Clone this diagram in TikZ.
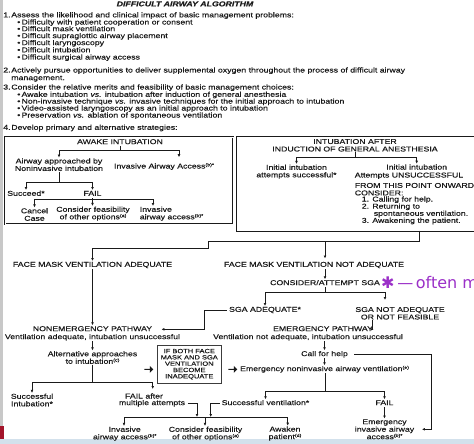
\documentclass[tikz,border=0pt]{standalone}
\usepackage{fontspec}
\setmainfont{Liberation Sans}[FakeStretch=1.25,FakeBold=0.35]
\newfontfamily\handfont{DejaVu Sans}
\usetikzlibrary{arrows.meta,shapes.arrows,calc}
\definecolor{ink}{HTML}{1A1A1A}
\definecolor{pen}{HTML}{9B30C8}
\definecolor{band}{HTML}{D3E1EC}
\definecolor{strip}{HTML}{C8C8C8}
\definecolor{redbit}{HTML}{A3142A}
\newcommand\fsz[2]{\fontsize{#1}{#2}\selectfont}
\newcommand\sups[1]{\raisebox{2.2pt}{\fsz{4.2}{4.2}#1}}
\tikzset{
 lbl/.style={inner sep=0pt, outer sep=0.8pt, text=ink, font=\fsz{7}{7.5}, align=center},
 one/.style={lbl, text height=5pt, text depth=1.4pt},
 lw/.style={one, anchor=west},
 ln/.style={draw=ink, line width=0.6pt},
 arr/.style={ln, -{Latex[length=3pt,width=2.8pt]}},
 frame/.style={draw=ink, double=white, double distance=0.9pt, line width=0.55pt, inner sep=0pt, outer sep=0pt, anchor=north west},
 blk/.style={single arrow, fill=ink, draw=none, minimum height=9pt, minimum width=7pt, single arrow head extend=1.2pt, inner sep=0pt},
}
\begin{document}
\begin{tikzpicture}[x=1pt,y=-1pt]
\useasboundingbox (0,0) rectangle (474,444);
\fill[white] (0,0) rectangle (474,444);
\fill[strip] (0,0) rectangle (3,439);
\fill[redbit] (0,426) rectangle (4,439);
\fill[band] (0,439) rectangle (474,444);

% ---------- header list ----------
\node[one, font=\fsz{7}{7.5}\bfseries\itshape] (title) at (185,4.5) {DIFFICULT AIRWAY ALGORITHM};
\node[lw] (n1) at (2.5,15.5) {1.};
\node[lw] (t1) at (10.5,15.5) {Assess the likelihood and clinical impact of basic management problems:};
\node[lw] (b11) at (16.5,22.7) {•\hspace{1.2pt}Difficulty with patient cooperation or consent};
\node[lw] (b12) at (16.5,29.4) {•\hspace{1.2pt}Difficult mask ventilation};
\node[lw] (b13) at (16.5,36.3) {•\hspace{1.2pt}Difficult supraglottic airway placement};
\node[lw] (b14) at (16.5,43.3) {•\hspace{1.2pt}Difficult laryngoscopy};
\node[lw] (b15) at (16.5,50.5) {•\hspace{1.2pt}Difficult intubation};
\node[lw] (b16) at (16.5,57.7) {•\hspace{1.2pt}Difficult surgical airway access};
\node[lw] (n2) at (2.5,70.7) {2.};
\node[lw] (t2) at (10.5,70.7) {Actively pursue opportunities to deliver supplemental oxygen throughout the process of difficult airway};
\node[lw] (t2b) at (10.5,78.3) {management.};
\node[lw] (n3) at (2.5,87.7) {3.};
\node[lw] (t3) at (10.5,87.7) {Consider the relative merits and feasibility of basic management choices:};
\node[lw] (b31) at (16.5,95) {•\hspace{1.2pt}Awake intubation \textit{vs.} intubation after induction of general anesthesia};
\node[lw] (b32) at (16.5,101.8) {•\hspace{1.2pt}Non-invasive technique \textit{vs.} invasive techniques for the initial approach to intubation};
\node[lw] (b33) at (16.5,108.7) {•\hspace{1.2pt}Video-assisted laryngoscopy as an initial approach to intubation};
\node[lw] (b34) at (16.5,115.7) {•\hspace{1.2pt}Preservation \textit{vs.} ablation of spontaneous ventilation};
\node[lw] (n4) at (2.5,128) {4.};
\node[lw] (t4) at (10.5,128) {Develop primary and alternative strategies:};

% ---------- boxes ----------
\node[frame, minimum width=228pt, minimum height=87pt] (boxL) at (5,137) {};
\node[frame, minimum width=250pt, minimum height=93.5pt] (boxR) at (237,137) {};

% ---------- awake intubation ----------
\node[one] (awake) at (120,142.3) {AWAKE INTUBATION};
\coordinate (jA) at (120,150);
\node[lbl] (aw1) at (59,164.7) {Airway approached by\\Noninvasive intubation};
\node[one] (iaa) at (164,166.7) {Invasive Airway Access\sups{(b)*}};
\coordinate (iaaT) at (179,157.2);
\draw[ln] (awake.south) -- (jA);
\draw[arr] (jA) -| (aw1.north);
\draw[arr] (jA) -| (iaaT);

\coordinate (jB) at (59,182.3);
\node[one] (succ) at (26,194) {Succeed*};
\node[one] (fail1) at (92.5,194) {FAIL};
\draw[ln] (aw1.south) -- (jB);
\draw[arr] (jB) -| (succ.north);
\draw[arr] (jB) -| (fail1.north);

\coordinate (jC) at (92.5,199);
\node[lbl] (cancel) at (34.5,214.5) {Cancel\\Case};
\node[lbl] (consid) at (93,213.7) {Consider feasibility\\of other options\sups{(a)}};
\node[lbl, align=left, anchor=west] (inv1) at (139,213.7) {Invasive\\airway access\sups{(b)*}};
\coordinate (a153) at (153,206);
\draw[ln] (fail1.south) -- (jC);
\draw[arr] (jC) -| (cancel.north);
\draw[arr] (jC) -- (jC |- consid.north);
\draw[arr] (jC) -| (a153);

% ---------- intubation after induction ----------
\node[lbl] (iag) at (355,145.3) {INTUBATION AFTER\\INDUCTION OF GENERAL ANESTHESIA};
\coordinate (jD) at (355,157.7);
\node[lbl] (iis) at (296.5,171.7) {Initial intubation\\attempts successful*};
\node[one] (iiu1) at (416.7,167.7) {Initial intubation};
\node[lw] (iiu2) at (354,175.7) {Attempts UNSUCCESSFUL};
\node[lbl, align=left, anchor=west] (from) at (354,189.2) {FROM THIS POINT ONWARDS\\CONSIDER:};
\node[lw] (c1) at (361,199.7) {1. Calling for help.};
\node[lw] (c2) at (361,206.8) {2. Returning to};
\node[lw] (c2b) at (373,214) {spontaneous ventilation.};
\node[lw] (c3) at (361,221) {3. Awakening the patient.};
\draw[ln] (iag.south) -- (jD);
\draw[arr] (jD) -| (iis.north);
\draw[arr] (jD) -| (iiu1.north);

% ---------- face mask ----------
\coordinate (k1) at (419,241.7);
\coordinate (k3) at (208,248.3);
\coordinate (k4) at (325,258.5);
\node[one] (fmva) at (92.5,265) {FACE MASK VENTILATION ADEQUATE};
\node[one] (fmvna) at (314,265) {FACE MASK VENTILATION NOT ADEQUATE};
\draw[arr] (boxR.south -| k1) -- (k1) -| (k3) -| (fmva.north);
\draw[arr] (k1) -| (k4);

\node[one] (cons) at (325,283.3) {CONSIDER/ATTEMPT SGA};
\draw[arr] (cons.north |- fmvna.south) -- (cons.north);
\node[anchor=west, inner sep=0pt, text=pen, font=\handfont\fsz{16}{16}] (hand) at (381,282.5) {✱\,—\,often m};

\coordinate (jE) at (325,292.7);
\coordinate (k5) at (385,300);
\node[one] (sgaa) at (265,310) {SGA ADEQUATE*};
\node[lbl] (sgana) at (400,313.3) {SGA NOT ADEQUATE\\OR NOT FEASIBLE};
\draw[ln] (cons.south) -- (jE);
\draw[arr] (jE) -| (sgaa.north);
\draw[arr] (jE) -| (k5);

\node[one] (nonemT) at (92.5,329.3) {NONEMERGENCY PATHWAY};
\node[one] (nonemS) at (92.5,337.3) {Ventilation adequate, intubation unsuccessful};
\node[one] (emT) at (323,329.3) {EMERGENCY PATHWAY};
\node[one] (emS) at (308,337.3) {Ventilation not adequate, intubation unsuccessful};
\coordinate (k6) at (204,310);
\coordinate (k7) at (204,329.3);
\draw[arr, shorten >=8.5pt, shorten <=1.5pt] (sgaa.west) -- (k6) -- (k7) -- (nonemT.east);
\coordinate (k9) at (372,329.3);
\draw[arr] (sgana.south -| k9) -- (k9) -- (emT.east);
\draw[arr] (fmva.south) -- (nonemT.north);

% ---------- nonemergency ----------
\node[lbl] (alt) at (92.5,357.5) {Alternative approaches\\to intubation\sups{(c)}};
\draw[arr] (nonemS.south) -- (alt.north);
\coordinate (jF) at (92.5,382.7);
\coordinate (k10) at (152.7,389);
\node[lbl] (succInt) at (32,400) {Successful\\Intubation*};
\node[one] (fa1) at (144,396.7) {FAIL after};
\node[one] (fa2) at (152,403.3) {multiple attempts};
\draw[ln] (alt.south) -- (jF);
\draw[arr] (jF) -| (succInt.north);
\draw[arr] (jF) -| (k10);

\node[blk] (ba1) at (148.5,369.3) {};
\node[draw=ink!85, line width=0.55pt, inner sep=0pt, outer sep=0pt, text=ink, font=\fsz{6}{6.3}, align=center, minimum width=64.7pt, minimum height=38.3pt] (ifb) at (189.3,364.2) {IF BOTH FACE\\MASK AND SGA\\VENTILATION\\BECOME\\INADEQUATE};
\node[blk] (ba2) at (232.5,369.3) {};

% ---------- emergency ----------
\node[one] (callhelp) at (324.5,354.3) {Call for help};
\draw[arr] (callhelp.north |- emS.south) -- (callhelp.north);
\node[lw] (env) at (239.3,369.3) {Emergency noninvasive airway ventilation\sups{(e)}};
\draw[arr] (callhelp.south) -- (callhelp.south |- env.north);
\coordinate (jG) at (325,391.7);
\node[one] (sv) at (265.5,403.3) {Successful ventilation*};
\node[one] (fail2) at (384.5,403.3) {FAIL};
\draw[ln] (env.south -| jG) -- (jG);
\draw[arr] (jG) -| (sv.north);
\draw[arr] (jG) -| (fail2.north);
\node[lbl] (eia) at (384.5,429.3) {Emergency\\invasive airway\\access\sups{(b)*}};
\draw[arr] (fail2.south) -- (eia.north);
\coordinate (k11) at (431.7,354.3);
\coordinate (k12) at (431.7,429.3);
\draw[arr, shorten <=5.5pt, shorten >=7pt] (callhelp.east) -- (k11) -- (k12) -- (eia.east |- k12);

% ---------- bottom row ----------
\coordinate (k13) at (197,403.3);
\coordinate (k14) at (197,417);
\coordinate (k15) at (210.7,403.3);
\coordinate (k16) at (210.7,417);
\coordinate (k17) at (124,417.3);
\coordinate (k18) at (287.7,417.3);
\coordinate (k19) at (205,417.3);
\node[lbl] (inv2) at (124.7,433.7) {Invasive\\airway access\sups{(b)*}};
\node[lbl] (cons2) at (205.5,433.7) {Consider feasibility\\of other options\sups{(a)}};
\node[lbl] (awaken) at (285,433.5) {Awaken\\patient\sups{(d)}};
\draw[arr, shorten <=2pt] (fa2.east) -- (k13) -- (k14);
\draw[arr, shorten <=1pt] (sv.west) -- (k15) -- (k16);
\draw[ln] (k17) -- (k18);
\draw[arr] (k17) -- (k17 |- inv2.north);
\draw[arr] (k19) -- (k19 |- cons2.north);
\draw[arr] (k18) -- (k18 |- awaken.north);
\end{tikzpicture}
\end{document}
